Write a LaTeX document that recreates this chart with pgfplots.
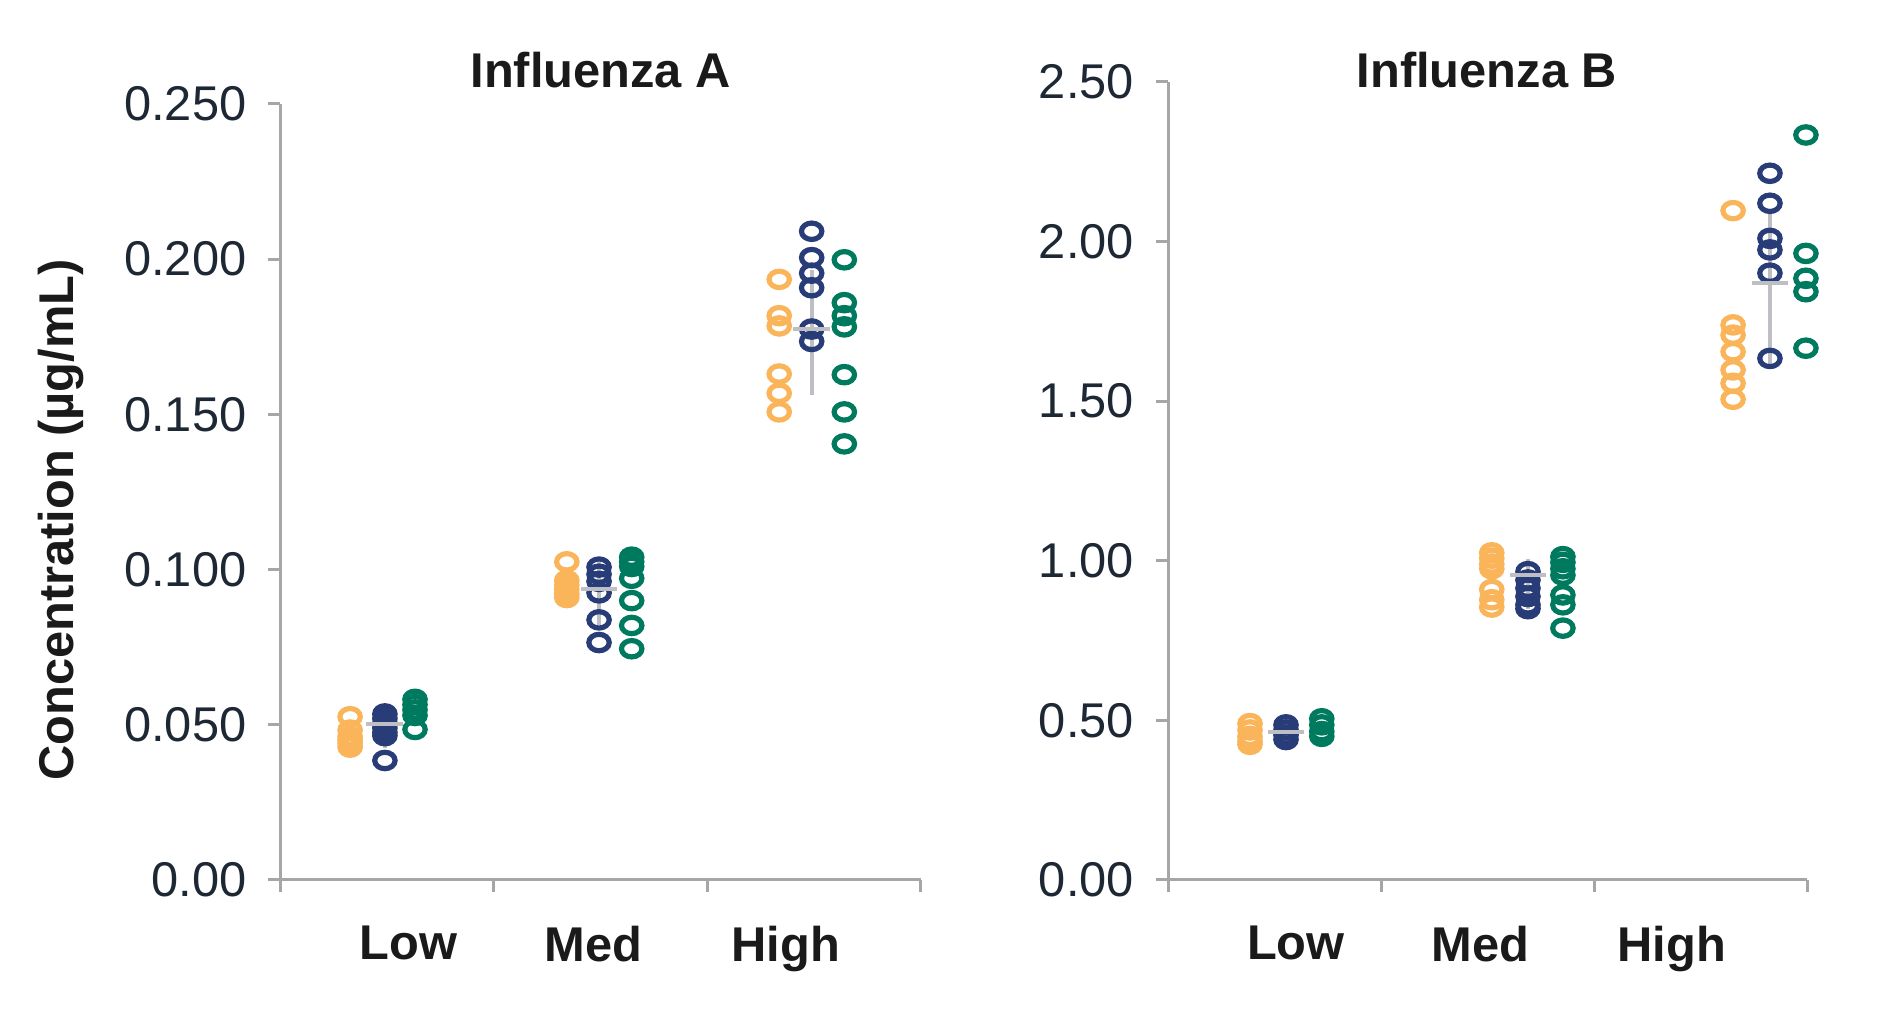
\documentclass[border=0pt]{standalone}
\usepackage{pgfplots}
\pgfplotsset{compat=1.18}
\usepackage{fontspec}
\setmainfont{Liberation Sans}

\definecolor{cOrange}{RGB}{250,180,90}
\definecolor{cNavy}{RGB}{40,60,120}
\definecolor{cGreen}{RGB}{0,122,94}
\definecolor{cErr}{RGB}{190,191,196}
\definecolor{cAxis}{RGB}{166,166,166}
\definecolor{cTick}{RGB}{30,40,52}
\definecolor{cText}{RGB}{26,26,26}

% slightly flattened open ring used for the replicate points
\pgfdeclareplotmark{ring}{%
  \pgfpathellipse{\pgfpointorigin}{\pgfqpoint{2.55pt}{0pt}}{\pgfqpoint{0pt}{2.05pt}}%
  \pgfusepathqstroke}

\pgfplotsset{
  panel/.style={
    scale only axis, clip=false,
    axis lines=left, axis line style={-, cAxis, line width=0.75pt},
    xmin=0, xmax=3, ymin=0,
    xtick={0,1,2,3}, xticklabels={},
    extra x ticks={0.6,1.467,2.366},
    extra x tick labels={Low,Med,High},
    extra x tick style={major tick length=0pt},
    x tick label style={font=\fontsize{12.2}{14}\selectfont\bfseries, text=cText, yshift=-8pt},
    y tick label style={font=\fontsize{12.2}{14}\selectfont, text=cTick, xshift=-2pt},
    tick align=outside, major tick length=3pt,
    tick style={cAxis, line width=0.75pt},
    title style={font=\fontsize{12.2}{14}\selectfont\bfseries, text=cText, anchor=center},
  },
  pts/.style={only marks, mark=ring, mark options={draw=#1, line width=1.3pt}},
  meanerr/.style={draw=none, mark=-, mark size=4.6pt,
    mark options={draw=cErr, line width=1pt},
    error bars/.cd, y dir=both, y explicit,
    error bar style={cErr, line width=1pt},
    error mark options={draw=cErr, mark size=1.6pt, line width=1pt}},
}

\begin{document}
\begin{tikzpicture}[x=1pt,y=1pt]
\useasboundingbox (0,0) rectangle (474,258.75);

% ---------------- Influenza A ----------------
\begin{axis}[panel,
  at={(70.125pt,38.75pt)}, anchor=south west,
  width=160.125pt, height=194pt,
  ymax=0.25,
  ytick={0,0.05,0.1,0.15,0.2,0.25},
  yticklabels={0.00,0.050,0.100,0.150,0.200,0.250},
  title={Influenza A},
  title style={at={(axis description cs:0.5,1)}, yshift=2.5pt},
  ylabel={Concentration (µg/mL)},
  ylabel style={at={(axis description cs:-0.342,0.464)}, anchor=center,
    font=\fontsize{12.2}{14}\selectfont\bfseries, text=cText},
]
\addplot[pts=cOrange] coordinates {
  (0.326,0.0526) (0.326,0.0483) (0.326,0.0462) (0.326,0.0450) (0.326,0.0440) (0.326,0.0428)
  (1.341,0.1025) (1.341,0.0965) (1.341,0.0950) (1.341,0.0935) (1.341,0.0922) (1.341,0.0910)
  (2.336,0.1935) (2.336,0.1818) (2.336,0.1785) (2.336,0.1630) (2.336,0.1568) (2.336,0.1508)
};
\addplot[pts=cNavy] coordinates {
  (0.489,0.0535) (0.489,0.0520) (0.489,0.0505) (0.489,0.0490) (0.489,0.0475) (0.489,0.0465) (0.489,0.0385)
  (1.492,0.1008) (1.492,0.0985) (1.492,0.0962) (1.492,0.0925) (1.492,0.0838) (1.492,0.0765)
  (2.488,0.2090) (2.488,0.2005) (2.488,0.1955) (2.488,0.1908) (2.488,0.1775) (2.488,0.1735)
};
\addplot[pts=cGreen] coordinates {
  (0.630,0.0582) (0.630,0.0565) (0.630,0.0548) (0.630,0.0530) (0.630,0.0485)
  (1.645,0.1040) (1.645,0.1025) (1.645,0.1010) (1.645,0.0972) (1.645,0.0900) (1.645,0.0820) (1.645,0.0745)
  (2.641,0.1998) (2.641,0.1860) (2.641,0.1818) (2.641,0.1782) (2.641,0.1628) (2.641,0.1508) (2.641,0.1405)
};
% group mean with spread
\addplot[meanerr] table[x=x, y=y, y error plus=ep, y error minus=em] {
  x     y       ep      em
  0.489 0.0503  0.0034  0.0057
  1.492 0.0937  0.0080  0.0094
  2.488 0.1774  0.0170  0.0192
};
\end{axis}

% ---------------- Influenza B ----------------
\begin{axis}[panel,
  at={(292pt,38.75pt)}, anchor=south west,
  width=159.75pt, height=199.5pt,
  ymax=2.5,
  ytick={0,0.5,1,1.5,2,2.5},
  yticklabels={0.00,0.50,1.00,1.50,2.00,2.50},
  title={Influenza B},
  title style={at={(axis description cs:0.499,1)}, yshift=-3pt},
]
\addplot[pts=cOrange] coordinates {
  (0.385,0.490) (0.385,0.470) (0.385,0.450) (0.385,0.435) (0.385,0.425)
  (1.520,1.025) (1.520,1.008) (1.520,0.990) (1.520,0.975) (1.520,0.910) (1.520,0.878) (1.520,0.855)
  (2.653,2.097) (2.653,1.739) (2.653,1.707) (2.653,1.655) (2.653,1.598) (2.653,1.556) (2.653,1.506)
};
\addplot[pts=cNavy] coordinates {
  (0.554,0.486) (0.554,0.470) (0.554,0.454) (0.554,0.440)
  (1.690,0.966) (1.690,0.940) (1.690,0.914) (1.690,0.888) (1.690,0.862) (1.690,0.850)
  (2.826,2.214) (2.826,2.120) (2.826,2.010) (2.826,1.974) (2.826,1.901) (2.826,1.634)
};
\addplot[pts=cGreen] coordinates {
  (0.722,0.505) (0.722,0.486) (0.722,0.465) (0.722,0.450)
  (1.854,1.013) (1.854,0.995) (1.854,0.975) (1.854,0.955) (1.854,0.893) (1.854,0.862) (1.854,0.789)
  (2.995,2.334) (2.995,1.963) (2.995,1.885) (2.995,1.843) (2.995,1.666)
};
\addplot[meanerr] table[x=x, y=y, y error plus=ep, y error minus=em] {
  x     y      ep     em
  0.554 0.464  0.016  0.038
  1.690 0.955  0.032  0.086
  2.826 1.869  0.214  0.232
};
\end{axis}
\end{tikzpicture}
\end{document}
